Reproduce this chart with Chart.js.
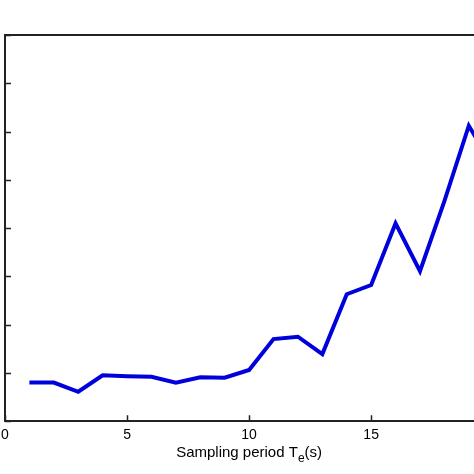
<!DOCTYPE html>
<html>
<head>
<meta charset="utf-8">
<script src="https://cdn.jsdelivr.net/npm/chart.js@4"></script>
<style>
  html, body { margin: 0; padding: 0; background: #fff; overflow: hidden; }
  #wrap { width: 506px; height: 474px; margin-left: -7px; }
</style>
</head>
<body>
<div id="wrap"><canvas id="chart" width="506" height="474"></canvas></div>
<script>
const samplingPeriods = [1, 2, 3, 4, 5, 6, 7, 8, 9, 10, 11, 12, 13, 14, 15, 16, 17, 18, 19, 20];
const seriesValues = [0.80, 0.80, 0.61, 0.95, 0.93, 0.92, 0.80, 0.91, 0.90, 1.06,
                      1.70, 1.75, 1.39, 2.63, 2.82, 4.10, 3.11, 4.56, 6.12, 5.27];
const xTicks = [0, 5, 10, 15, 20];
const yTicks = [0, 1, 2, 3, 4, 5, 6, 7, 8];

const axisColor = '#222';

// inward tick marks, top frame line and x title with subscript
const framePlugin = {
  id: 'frame',
  afterDraw(chart) {
    const c = chart.ctx;
    const area = chart.chartArea;
    const xs = chart.scales.x, ys = chart.scales.y;
    c.save();
    c.strokeStyle = axisColor;
    c.lineWidth = 2;
    c.beginPath();
    c.moveTo(area.left - 1, area.top);
    c.lineTo(area.right + 1, area.top);
    c.stroke();
    c.lineWidth = 1.5;
    c.beginPath();
    xTicks.forEach(v => {
      const px = Math.round(xs.getPixelForValue(v)) + 0.5;
      c.moveTo(px, area.bottom);
      c.lineTo(px, area.bottom - 6);
    });
    yTicks.forEach(v => {
      const py = Math.round(ys.getPixelForValue(v)) + 0.5;
      c.moveTo(area.left, py);
      c.lineTo(area.left + 6, py);
    });
    c.stroke();

    c.fillStyle = '#000';
    c.textBaseline = 'alphabetic';
    const big = '15px "Liberation Sans", Arial, sans-serif';
    const small = '12px "Liberation Sans", Arial, sans-serif';
    const main = 'Sampling period T';
    c.font = big;
    const w1 = c.measureText(main).width;
    const w3 = c.measureText('(s)').width;
    c.font = small;
    const w2 = c.measureText('e').width;
    const cx = (xs.getPixelForValue(0) + xs.getPixelForValue(20)) / 2;
    const x0 = cx - (w1 + w2 + w3) / 2;
    const base = 457;
    c.font = big;
    c.fillText(main, x0, base);
    c.font = small;
    c.fillText('e', x0 + w1, base + 5);
    c.font = big;
    c.fillText('(s)', x0 + w1 + w2, base);
    c.restore();
  }
};

new Chart(document.getElementById('chart').getContext('2d'), {
  type: 'line',
  data: {
    labels: samplingPeriods,
    datasets: [{
      data: samplingPeriods.map((x, i) => ({ x, y: seriesValues[i] })),
      borderColor: '#0000dd',
      borderWidth: 4,
      pointRadius: 0,
      fill: false,
      tension: 0
    }]
  },
  options: {
    responsive: false,
    animation: false,
    layout: { padding: { top: 35, left: 4, right: 0, bottom: 32 } },
    plugins: { legend: { display: false }, tooltip: { enabled: false } },
    scales: {
      x: {
        type: 'linear',
        min: 0,
        max: 20,
        afterBuildTicks: s => { s.ticks = xTicks.map(v => ({ value: v })); },
        grid: { display: false },
        border: { display: true, color: axisColor, width: 2 },
        ticks: {
          color: '#000',
          padding: -2,
          font: { size: 14, family: '"Liberation Sans", Arial, sans-serif' }
        }
      },
      y: {
        min: 0,
        max: 8,
        afterBuildTicks: s => { s.ticks = yTicks.map(v => ({ value: v })); },
        grid: { display: false },
        border: { display: true, color: axisColor, width: 2 },
        ticks: { display: false }
      }
    }
  },
  plugins: [framePlugin]
});
</script>
</body>
</html>
